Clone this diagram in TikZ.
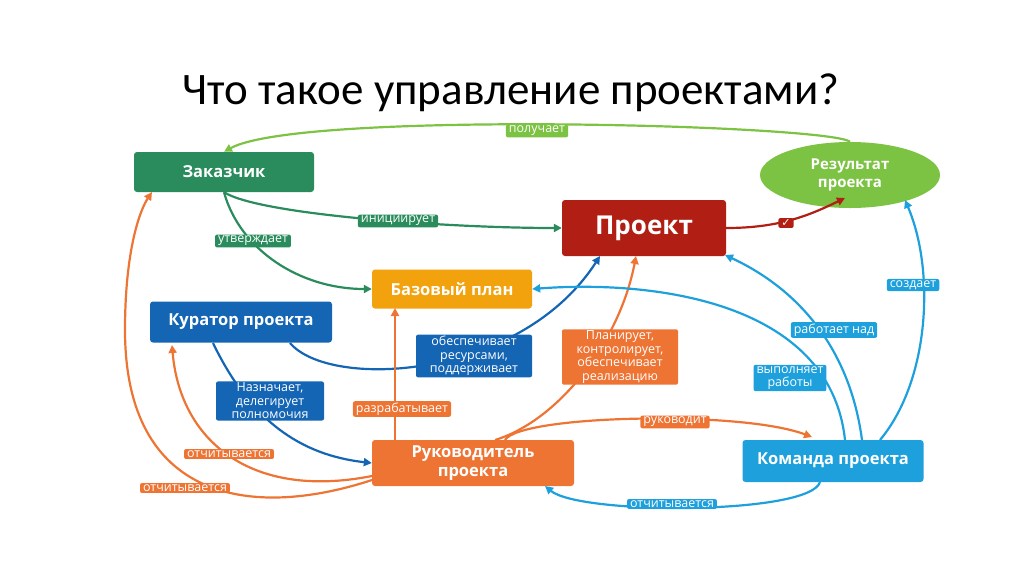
\documentclass[tikz,border=0pt]{standalone}
\usepackage{fontspec}
\setmainfont{Open Sans}
\newfontfamily\titlefont{Carlito}
\newfontfamily\symfont{DejaVu Sans}
\usetikzlibrary{arrows.meta,shapes.geometric}
\definecolor{cgreen}{HTML}{2A8C5C}
\definecolor{clgreen}{HTML}{7CC243}
\definecolor{cred}{HTML}{B01E14}
\definecolor{cyel}{HTML}{F2A20C}
\definecolor{cdblue}{HTML}{1565B5}
\definecolor{corange}{HTML}{EE7434}
\definecolor{cblue}{HTML}{1EA0DC}
\tikzset{
 box/.style={rounded corners=3pt,text=white,font=\bfseries\fontsize{16.5}{19}\selectfont,align=center,inner sep=0pt},
 lbl/.style={rounded corners=2pt,text=white,font=\fontsize{12.5}{13.5}\selectfont,align=center,inner xsep=3pt,inner ysep=1.5pt},
 con/.style={line width=2.2pt,-{Triangle[length=8pt,width=8pt]}},
}
\begin{document}
\begin{tikzpicture}[x=1pt,y=-1pt]
\useasboundingbox (0,0) rectangle (1024,574);
\node[font=\titlefont\fontsize{45}{48}\selectfont] (title) at (511,93) {Что такое управление проектами?};
% main nodes
\node[box,fill=cgreen,minimum width=180pt,minimum height=40pt] (zak) at (224,172) {Заказчик};
\node[box,fill=cred,minimum width=164pt,minimum height=56pt,font=\bfseries\fontsize{26}{28}\selectfont] (proj) at (644,228) {Проект};
\node[ellipse,fill=clgreen,text=white,font=\bfseries\fontsize{15}{18}\selectfont,align=center,minimum width=180pt,minimum height=66pt,inner sep=0pt] (res) at (850,175) {Результат\\проекта};
\node[box,fill=cyel,minimum width=160pt,minimum height=39pt] (plan) at (452,289) {Базовый план};
\node[box,fill=cdblue,minimum width=182pt,minimum height=41pt] (kur) at (241,322) {Куратор проекта};
\node[box,fill=corange,minimum width=202pt,minimum height=46pt] (ruk) at (473,463) {Руководитель\\проекта};
\node[box,fill=cblue,minimum width=181pt,minimum height=42pt] (kom) at (833,461) {Команда проекта};
% connectors
\draw[con,clgreen] (res.north) .. controls (830,125) and (300,110) .. (zak.north);
\draw[con,cgreen] (zak.south) .. controls (260,215) and (450,228) .. (proj.west);
\draw[con,cgreen] (zak.south) .. controls (240,250) and (300,289) .. (plan.west);
\draw[con,cred] (proj.east) .. controls (780,228) and (810,215) .. (845,198);
\draw[con,cdblue] (290,343) .. controls (330,390) and (520,380) .. (600,256);
\draw[con,cdblue] (213,343) .. controls (250,420) and (300,455) .. (ruk.west);
\draw[con,corange] (395,440) -- (395,308);
\draw[con,corange] (495,440) .. controls (560,420) and (620,340) .. (636,256);
\draw[con,corange] (372,476) .. controls (250,500) and (180,440) .. (172,345);
\draw[con,corange] (372,480) .. controls (250,520) and (125,500) .. (125,330) .. controls (125,250) and (140,210) .. (152,192);
\draw[con,corange] (505,440) .. controls (520,415) and (740,410) .. (812,437);
\draw[con,cblue] (820,482) .. controls (810,515) and (580,515) .. (545,486);
\draw[con,cblue] (880,440) .. controls (930,380) and (935,270) .. (905,200);
\draw[con,cblue] (862,440) .. controls (850,350) and (800,290) .. (725,255);
\draw[con,cblue] (845,440) .. controls (830,300) and (650,280) .. (plan.east);
% labels
\node[lbl,fill=clgreen] (l1) at (537,131) {получает};
\node[lbl,fill=cgreen] (l2) at (398,221) {инициирует};
\node[lbl,fill=cgreen] (l3) at (253,241) {утверждает};
\node[lbl,fill=cred,font=\symfont\fontsize{11}{12}\selectfont] (l4) at (786,223) {✓};
\node[lbl,fill=cdblue,minimum width=116pt] (l5) at (474,356) {обеспечивает\\ресурсами,\\поддерживает};
\node[lbl,fill=cdblue,minimum width=108pt] (l6) at (270,401) {Назначает,\\делегирует\\полномочия};
\node[lbl,fill=corange] (l7) at (402,409) {разрабатывает};
\node[lbl,fill=corange,minimum width=116pt] (l8) at (620,357) {Планирует,\\контролирует,\\обеспечивает\\реализацию};
\node[lbl,fill=corange] (l9) at (229,454) {отчитывается};
\node[lbl,fill=corange] (l10) at (185,488) {отчитывается};
\node[lbl,fill=corange] (l11) at (675,422) {руководит};
\node[lbl,fill=cblue] (l12) at (672,504) {отчитывается};
\node[lbl,fill=cblue] (l13) at (913,285) {создает};
\node[lbl,fill=cblue] (l14) at (834,330) {работает над};
\node[lbl,fill=cblue] (l15) at (790,378) {выполняет\\работы};
\end{tikzpicture}
\end{document}
